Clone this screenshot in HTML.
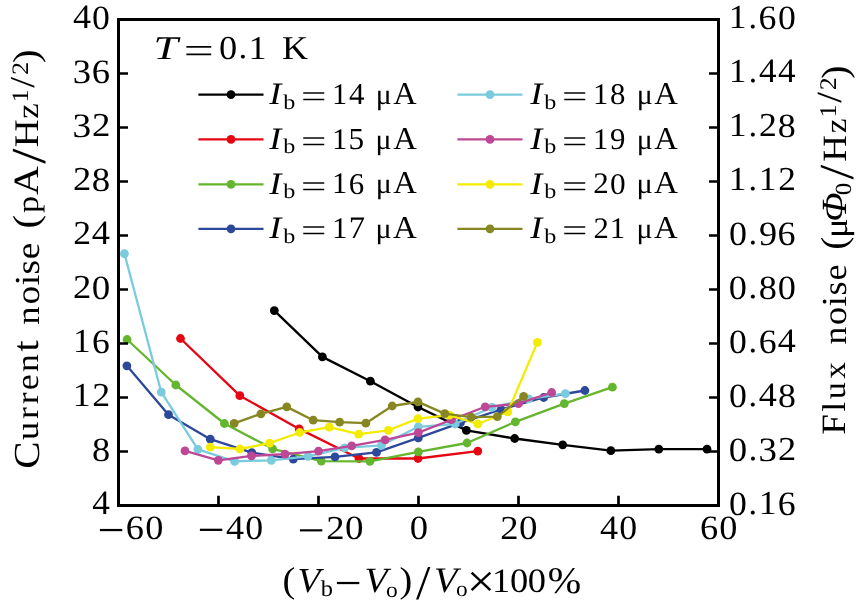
<!DOCTYPE html>
<html><head><meta charset="utf-8"><title>Current noise vs bias</title>
<style>
html,body{margin:0;padding:0;background:#fff;overflow:hidden;}
svg{display:block;}
text{font-family:"Liberation Serif",serif;fill:#000;text-rendering:geometricPrecision;white-space:pre;}
</style></head><body>
<svg width="859" height="605" viewBox="0 0 859 605">
<rect x="0" y="0" width="859" height="605" fill="#fff"/>
<path d="M274.3 310.6 L322.4 356.9 L370.4 381.2 L418.0 407.0 L466.4 430.4 L514.7 438.5 L562.7 444.8 L610.8 450.7 L658.8 449.2 L707.0 449.2" fill="none" stroke="#000000" stroke-width="2.3" stroke-linejoin="round"/>
<circle cx="274.3" cy="310.6" r="4.4" fill="#000000"/><circle cx="322.4" cy="356.9" r="4.4" fill="#000000"/><circle cx="370.4" cy="381.2" r="4.4" fill="#000000"/><circle cx="418.0" cy="407.0" r="4.4" fill="#000000"/><circle cx="466.4" cy="430.4" r="4.4" fill="#000000"/><circle cx="514.7" cy="438.5" r="4.4" fill="#000000"/><circle cx="562.7" cy="444.8" r="4.4" fill="#000000"/><circle cx="610.8" cy="450.7" r="4.4" fill="#000000"/><circle cx="658.8" cy="449.2" r="4.4" fill="#000000"/><circle cx="707.0" cy="449.2" r="4.4" fill="#000000"/>
<path d="M180.5 338.5 L239.8 395.7 L299.2 428.9 L359.0 458.5 L418.0 458.5 L477.8 451.1" fill="none" stroke="#E60512" stroke-width="2.3" stroke-linejoin="round"/>
<circle cx="180.5" cy="338.5" r="4.4" fill="#E60512"/><circle cx="239.8" cy="395.7" r="4.4" fill="#E60512"/><circle cx="299.2" cy="428.9" r="4.4" fill="#E60512"/><circle cx="359.0" cy="458.5" r="4.4" fill="#E60512"/><circle cx="418.0" cy="458.5" r="4.4" fill="#E60512"/><circle cx="477.8" cy="451.1" r="4.4" fill="#E60512"/>
<path d="M127.1 339.5 L175.8 385.0 L224.4 423.5 L272.6 448.8 L321.3 461.1 L369.9 461.3 L418.3 451.9 L467.0 443.0 L515.4 421.8 L564.3 403.6 L612.4 387.2" fill="none" stroke="#64B62E" stroke-width="2.3" stroke-linejoin="round"/>
<circle cx="127.1" cy="339.5" r="4.4" fill="#64B62E"/><circle cx="175.8" cy="385.0" r="4.4" fill="#64B62E"/><circle cx="224.4" cy="423.5" r="4.4" fill="#64B62E"/><circle cx="272.6" cy="448.8" r="4.4" fill="#64B62E"/><circle cx="321.3" cy="461.1" r="4.4" fill="#64B62E"/><circle cx="369.9" cy="461.3" r="4.4" fill="#64B62E"/><circle cx="418.3" cy="451.9" r="4.4" fill="#64B62E"/><circle cx="467.0" cy="443.0" r="4.4" fill="#64B62E"/><circle cx="515.4" cy="421.8" r="4.4" fill="#64B62E"/><circle cx="564.3" cy="403.6" r="4.4" fill="#64B62E"/><circle cx="612.4" cy="387.2" r="4.4" fill="#64B62E"/>
<path d="M126.9 365.8 L168.5 414.7 L210.3 439.2 L251.8 452.6 L293.3 459.2 L335.0 456.9 L376.5 452.4 L418.3 437.9 L460.4 422.8 L501.0 409.5 L543.7 397.5 L584.9 390.5" fill="none" stroke="#2C489B" stroke-width="2.3" stroke-linejoin="round"/>
<circle cx="126.9" cy="365.8" r="4.4" fill="#2C489B"/><circle cx="168.5" cy="414.7" r="4.4" fill="#2C489B"/><circle cx="210.3" cy="439.2" r="4.4" fill="#2C489B"/><circle cx="251.8" cy="452.6" r="4.4" fill="#2C489B"/><circle cx="293.3" cy="459.2" r="4.4" fill="#2C489B"/><circle cx="335.0" cy="456.9" r="4.4" fill="#2C489B"/><circle cx="376.5" cy="452.4" r="4.4" fill="#2C489B"/><circle cx="418.3" cy="437.9" r="4.4" fill="#2C489B"/><circle cx="460.4" cy="422.8" r="4.4" fill="#2C489B"/><circle cx="501.0" cy="409.5" r="4.4" fill="#2C489B"/><circle cx="543.7" cy="397.5" r="4.4" fill="#2C489B"/><circle cx="584.9" cy="390.5" r="4.4" fill="#2C489B"/>
<path d="M124.4 253.6 L161.3 392.2 L197.9 449.3 L234.6 461.3 L271.3 460.3 L308.0 456.3 L344.6 447.8 L381.5 445.3 L418.3 426.8 L455.1 424.0 L491.8 407.3 L528.7 398.9 L565.4 393.6" fill="none" stroke="#7ACBDE" stroke-width="2.3" stroke-linejoin="round"/>
<circle cx="124.4" cy="253.6" r="4.4" fill="#7ACBDE"/><circle cx="161.3" cy="392.2" r="4.4" fill="#7ACBDE"/><circle cx="197.9" cy="449.3" r="4.4" fill="#7ACBDE"/><circle cx="234.6" cy="461.3" r="4.4" fill="#7ACBDE"/><circle cx="271.3" cy="460.3" r="4.4" fill="#7ACBDE"/><circle cx="308.0" cy="456.3" r="4.4" fill="#7ACBDE"/><circle cx="344.6" cy="447.8" r="4.4" fill="#7ACBDE"/><circle cx="381.5" cy="445.3" r="4.4" fill="#7ACBDE"/><circle cx="418.3" cy="426.8" r="4.4" fill="#7ACBDE"/><circle cx="455.1" cy="424.0" r="4.4" fill="#7ACBDE"/><circle cx="491.8" cy="407.3" r="4.4" fill="#7ACBDE"/><circle cx="528.7" cy="398.9" r="4.4" fill="#7ACBDE"/><circle cx="565.4" cy="393.6" r="4.4" fill="#7ACBDE"/>
<path d="M185.0 450.9 L218.3 460.3 L251.5 455.9 L285.0 454.2 L318.5 451.1 L351.7 445.8 L385.1 439.8 L418.3 432.6 L451.5 419.7 L485.2 406.8 L518.4 403.7 L551.7 392.5" fill="none" stroke="#BE4896" stroke-width="2.3" stroke-linejoin="round"/>
<circle cx="185.0" cy="450.9" r="4.4" fill="#BE4896"/><circle cx="218.3" cy="460.3" r="4.4" fill="#BE4896"/><circle cx="251.5" cy="455.9" r="4.4" fill="#BE4896"/><circle cx="285.0" cy="454.2" r="4.4" fill="#BE4896"/><circle cx="318.5" cy="451.1" r="4.4" fill="#BE4896"/><circle cx="351.7" cy="445.8" r="4.4" fill="#BE4896"/><circle cx="385.1" cy="439.8" r="4.4" fill="#BE4896"/><circle cx="418.3" cy="432.6" r="4.4" fill="#BE4896"/><circle cx="451.5" cy="419.7" r="4.4" fill="#BE4896"/><circle cx="485.2" cy="406.8" r="4.4" fill="#BE4896"/><circle cx="518.4" cy="403.7" r="4.4" fill="#BE4896"/><circle cx="551.7" cy="392.5" r="4.4" fill="#BE4896"/>
<path d="M210.3 447.1 L239.9 449.0 L269.7 443.1 L299.7 432.5 L329.3 427.2 L358.7 434.2 L388.4 430.3 L418.0 418.6 L449.4 415.2 L477.9 424.0 L507.8 411.8 L537.4 342.4" fill="none" stroke="#F3EC00" stroke-width="2.3" stroke-linejoin="round"/>
<circle cx="210.3" cy="447.1" r="4.4" fill="#F3EC00"/><circle cx="239.9" cy="449.0" r="4.4" fill="#F3EC00"/><circle cx="269.7" cy="443.1" r="4.4" fill="#F3EC00"/><circle cx="299.7" cy="432.5" r="4.4" fill="#F3EC00"/><circle cx="329.3" cy="427.2" r="4.4" fill="#F3EC00"/><circle cx="358.7" cy="434.2" r="4.4" fill="#F3EC00"/><circle cx="388.4" cy="430.3" r="4.4" fill="#F3EC00"/><circle cx="418.0" cy="418.6" r="4.4" fill="#F3EC00"/><circle cx="449.4" cy="415.2" r="4.4" fill="#F3EC00"/><circle cx="477.9" cy="424.0" r="4.4" fill="#F3EC00"/><circle cx="507.8" cy="411.8" r="4.4" fill="#F3EC00"/><circle cx="537.4" cy="342.4" r="4.4" fill="#F3EC00"/>
<path d="M234.2 423.3 L260.9 413.8 L286.8 406.9 L313.2 420.2 L339.6 422.2 L365.8 423.2 L392.2 406.0 L418.0 401.9 L444.8 413.6 L471.2 417.2 L497.3 416.7 L523.6 396.3" fill="none" stroke="#868722" stroke-width="2.3" stroke-linejoin="round"/>
<circle cx="234.2" cy="423.3" r="4.4" fill="#868722"/><circle cx="260.9" cy="413.8" r="4.4" fill="#868722"/><circle cx="286.8" cy="406.9" r="4.4" fill="#868722"/><circle cx="313.2" cy="420.2" r="4.4" fill="#868722"/><circle cx="339.6" cy="422.2" r="4.4" fill="#868722"/><circle cx="365.8" cy="423.2" r="4.4" fill="#868722"/><circle cx="392.2" cy="406.0" r="4.4" fill="#868722"/><circle cx="418.0" cy="401.9" r="4.4" fill="#868722"/><circle cx="444.8" cy="413.6" r="4.4" fill="#868722"/><circle cx="471.2" cy="417.2" r="4.4" fill="#868722"/><circle cx="497.3" cy="416.7" r="4.4" fill="#868722"/><circle cx="523.6" cy="396.3" r="4.4" fill="#868722"/>
<rect x="118.5" y="19.5" width="600" height="486" fill="none" stroke="#000" stroke-width="3"/>
<path d="M120 451.5H128 M717 451.5H709 M120 397.5H128 M717 397.5H709 M120 343.5H128 M717 343.5H709 M120 289.5H128 M717 289.5H709 M120 235.5H128 M717 235.5H709 M120 181.5H128 M717 181.5H709 M120 127.5H128 M717 127.5H709 M120 73.5H128 M717 73.5H709 M218.5 504V495.8 M318.5 504V495.8 M418.5 504V495.8 M518.5 504V495.8 M618.5 504V495.8" stroke="#000" stroke-width="2.7" fill="none"/>
<text transform="scale(1.0294 1)"><tspan x="89.52" y="514.23" font-size="34.30">4</tspan></text>
<text transform="scale(1.0708 1)"><tspan x="85.89" y="460.57" font-size="33.96">8</tspan></text>
<text transform="scale(1.0660 1)"><tspan x="68.24" y="406.23" font-size="33.70">1</tspan><tspan x="86.59" y="406.23" font-size="33.60">2</tspan></text>
<text transform="scale(1.0443 1)"><tspan x="69.85" y="352.23" font-size="33.70">1</tspan><tspan x="88.02" y="352.57" font-size="34.10">6</tspan></text>
<text transform="scale(1.0894 1)"><tspan x="67.05" y="298.23" font-size="33.60">2</tspan><tspan x="84.27" y="298.57" font-size="33.96">0</tspan></text>
<text transform="scale(1.0615 1)"><tspan x="69.03" y="244.23" font-size="33.60">2</tspan><tspan x="86.56" y="244.23" font-size="34.30">4</tspan></text>
<text transform="scale(1.0846 1)"><tspan x="67.38" y="190.23" font-size="33.60">2</tspan><tspan x="84.68" y="190.57" font-size="33.96">8</tspan></text>
<text transform="scale(1.0966 1)"><tspan x="66.09" y="136.57" font-size="34.10">3</tspan><tspan x="83.94" y="136.23" font-size="33.60">2</tspan></text>
<text transform="scale(1.0754 1)"><tspan x="67.57" y="82.57" font-size="34.10">3</tspan><tspan x="85.22" y="82.57" font-size="34.10">6</tspan></text>
<text transform="scale(1.0534 1)"><tspan x="69.19" y="28.23" font-size="34.30">4</tspan><tspan x="87.44" y="28.57" font-size="33.96">0</tspan></text>
<text transform="scale(1.0520 1)"><tspan x="692.96" y="514.57" font-size="33.96">0</tspan><tspan x="711.59" y="513.77" font-size="32.60">.</tspan><tspan x="721.18" y="514.23" font-size="33.70">1</tspan><tspan x="739.22" y="514.57" font-size="34.10">6</tspan></text>
<text transform="scale(1.0833 1)"><tspan x="672.71" y="460.57" font-size="33.96">0</tspan><tspan x="690.93" y="459.77" font-size="32.60">.</tspan><tspan x="700.11" y="460.57" font-size="34.10">3</tspan><tspan x="718.17" y="460.23" font-size="33.60">2</tspan></text>
<text transform="scale(1.0543 1)"><tspan x="691.40" y="406.57" font-size="33.96">0</tspan><tspan x="710.00" y="405.77" font-size="32.60">.</tspan><tspan x="719.59" y="406.23" font-size="34.30">4</tspan><tspan x="737.82" y="406.57" font-size="33.96">8</tspan></text>
<text transform="scale(1.0505 1)"><tspan x="693.98" y="352.57" font-size="33.96">0</tspan><tspan x="712.63" y="351.77" font-size="32.60">.</tspan><tspan x="722.17" y="352.57" font-size="34.10">6</tspan><tspan x="740.42" y="352.23" font-size="34.30">4</tspan></text>
<text transform="scale(1.0707 1)"><tspan x="680.73" y="298.57" font-size="33.96">0</tspan><tspan x="699.11" y="297.77" font-size="32.60">.</tspan><tspan x="708.64" y="298.57" font-size="33.96">8</tspan><tspan x="726.44" y="298.57" font-size="33.96">0</tspan></text>
<text transform="scale(1.0601 1)"><tspan x="687.59" y="244.57" font-size="33.96">0</tspan><tspan x="706.11" y="243.77" font-size="32.60">.</tspan><tspan x="715.89" y="244.57" font-size="34.10">9</tspan><tspan x="733.50" y="244.57" font-size="34.10">6</tspan></text>
<text transform="scale(1.0488 1)"><tspan x="694.92" y="190.23" font-size="33.70">1</tspan><tspan x="713.77" y="189.77" font-size="32.60">.</tspan><tspan x="723.41" y="190.23" font-size="33.70">1</tspan><tspan x="742.04" y="190.23" font-size="33.60">2</tspan></text>
<text transform="scale(1.0617 1)"><tspan x="686.35" y="136.23" font-size="33.70">1</tspan><tspan x="705.03" y="135.77" font-size="32.60">.</tspan><tspan x="714.96" y="136.23" font-size="33.60">2</tspan><tspan x="732.63" y="136.57" font-size="33.96">8</tspan></text>
<text transform="scale(1.0267 1)"><tspan x="710.08" y="82.23" font-size="33.70">1</tspan><tspan x="729.24" y="81.77" font-size="32.60">.</tspan><tspan x="739.21" y="82.23" font-size="34.30">4</tspan><tspan x="757.77" y="82.23" font-size="34.30">4</tspan></text>
<text transform="scale(1.0520 1)"><tspan x="692.77" y="28.23" font-size="33.70">1</tspan><tspan x="711.59" y="27.77" font-size="32.60">.</tspan><tspan x="721.10" y="28.57" font-size="34.10">6</tspan><tspan x="739.48" y="28.57" font-size="33.96">0</tspan></text>
<text transform="scale(1.0688 1)"><tspan x="91.14" y="545.21" font-size="45.04">−</tspan><tspan x="117.72" y="539.27" font-size="34.10">6</tspan><tspan x="135.82" y="539.27" font-size="33.96">0</tspan></text>
<text transform="scale(1.0534 1)"><tspan x="187.39" y="545.42" font-size="45.70">−</tspan><tspan x="214.59" y="538.93" font-size="34.30">4</tspan><tspan x="232.84" y="539.27" font-size="33.96">0</tspan></text>
<text transform="scale(1.0894 1)"><tspan x="272.99" y="544.92" font-size="44.19">−</tspan><tspan x="299.44" y="538.93" font-size="33.60">2</tspan><tspan x="316.66" y="539.27" font-size="33.96">0</tspan></text>
<text transform="scale(1.0801 1)"><tspan x="379.25" y="539.27" font-size="33.96">0</tspan></text>
<text transform="scale(1.0894 1)"><tspan x="459.24" y="538.93" font-size="33.60">2</tspan><tspan x="476.46" y="539.27" font-size="33.96">0</tspan></text>
<text transform="scale(1.0534 1)"><tspan x="569.70" y="538.93" font-size="34.30">4</tspan><tspan x="587.95" y="539.27" font-size="33.96">0</tspan></text>
<text transform="scale(1.0688 1)"><tspan x="654.88" y="539.27" font-size="34.10">6</tspan><tspan x="672.97" y="539.27" font-size="33.96">0</tspan></text>
<text transform="scale(1.3221 1)"><tspan x="116.20" y="58.90" font-size="33.29" font-style="italic">T</tspan></text>
<text font-size="37.20" transform="translate(183.65 62.80) scale(1.4327 1)">=</text>
<text transform="scale(1.0873 1)"><tspan x="201.42" y="59.07" font-size="33.49">0</tspan><tspan x="219.41" y="58.28" font-size="32.16">.</tspan><tspan x="228.48" y="58.74" font-size="33.23">1</tspan> <tspan x="259.40" y="58.90" font-size="33.29">K</tspan></text>
<path d="M198.4 94.6H263.5" stroke="#000000" stroke-width="2.3"/><circle cx="231.0" cy="94.6" r="4.4" fill="#000000"/>
<text transform="scale(1.1561 1)"><tspan x="232.99" y="103.90" font-size="31.16" font-style="italic">I</tspan><tspan x="244.93" y="108.60" font-size="20.89">b</tspan></text>
<text font-size="32.40" transform="translate(301.05 107.11) scale(1.3929 1)">=</text>
<text transform="scale(1.0189 1)"><tspan x="325.92" y="103.70" font-size="29.77">1</tspan><tspan x="342.46" y="103.70" font-size="30.31">4</tspan> <tspan x="368.73" y="103.77" font-size="29.13">μ</tspan><tspan x="385.96" y="103.70" font-size="31.81">A</tspan></text>
<path d="M198.4 139.4H263.5" stroke="#E60512" stroke-width="2.3"/><circle cx="231.0" cy="139.4" r="4.4" fill="#E60512"/>
<text transform="scale(1.1561 1)"><tspan x="232.99" y="148.70" font-size="31.16" font-style="italic">I</tspan><tspan x="244.93" y="153.40" font-size="20.89">b</tspan></text>
<text font-size="32.40" transform="translate(301.05 151.91) scale(1.3929 1)">=</text>
<text transform="scale(1.0264 1)"><tspan x="323.47" y="148.50" font-size="29.77">1</tspan><tspan x="339.63" y="148.79" font-size="30.47">5</tspan> <tspan x="365.96" y="148.57" font-size="29.13">μ</tspan><tspan x="383.05" y="148.50" font-size="31.81">A</tspan></text>
<path d="M198.4 184.3H263.5" stroke="#64B62E" stroke-width="2.3"/><circle cx="231.0" cy="184.3" r="4.4" fill="#64B62E"/>
<text transform="scale(1.1561 1)"><tspan x="232.99" y="193.60" font-size="31.16" font-style="italic">I</tspan><tspan x="244.93" y="198.30" font-size="20.89">b</tspan></text>
<text font-size="32.40" transform="translate(301.05 196.81) scale(1.3929 1)">=</text>
<text transform="scale(1.0250 1)"><tspan x="323.95" y="193.40" font-size="29.77">1</tspan><tspan x="340.30" y="193.70" font-size="30.13">6</tspan> <tspan x="366.50" y="193.47" font-size="29.13">μ</tspan><tspan x="383.61" y="193.40" font-size="31.81">A</tspan></text>
<path d="M198.4 228.8H263.5" stroke="#2C489B" stroke-width="2.3"/><circle cx="231.0" cy="228.8" r="4.4" fill="#2C489B"/>
<text transform="scale(1.1561 1)"><tspan x="232.99" y="238.10" font-size="31.16" font-style="italic">I</tspan><tspan x="244.93" y="242.80" font-size="20.89">b</tspan></text>
<text font-size="32.40" transform="translate(301.05 241.31) scale(1.3929 1)">=</text>
<text transform="scale(1.0348 1)"><tspan x="320.78" y="237.90" font-size="29.77">1</tspan><tspan x="336.93" y="238.49" font-size="31.46">7</tspan> <tspan x="362.92" y="237.97" font-size="29.13">μ</tspan><tspan x="379.84" y="237.90" font-size="31.81">A</tspan></text>
<path d="M457.4 94.6H522.5" stroke="#7ACBDE" stroke-width="2.3"/><circle cx="490.0" cy="94.6" r="4.4" fill="#7ACBDE"/>
<text transform="scale(1.1561 1)"><tspan x="458.74" y="103.90" font-size="31.16" font-style="italic">I</tspan><tspan x="470.68" y="108.60" font-size="20.89">b</tspan></text>
<text font-size="32.40" transform="translate(562.05 107.11) scale(1.3929 1)">=</text>
<text transform="scale(1.0278 1)"><tspan x="576.99" y="103.70" font-size="29.77">1</tspan><tspan x="593.53" y="104.00" font-size="30.00">8</tspan> <tspan x="619.42" y="103.77" font-size="29.13">μ</tspan><tspan x="636.48" y="103.70" font-size="31.81">A</tspan></text>
<path d="M457.4 139.4H522.5" stroke="#BE4896" stroke-width="2.3"/><circle cx="490.0" cy="139.4" r="4.4" fill="#BE4896"/>
<text transform="scale(1.1561 1)"><tspan x="458.74" y="148.70" font-size="31.16" font-style="italic">I</tspan><tspan x="470.68" y="153.40" font-size="20.89">b</tspan></text>
<text font-size="32.40" transform="translate(562.05 151.91) scale(1.3929 1)">=</text>
<text transform="scale(1.0252 1)"><tspan x="578.44" y="148.50" font-size="29.77">1</tspan><tspan x="595.13" y="148.80" font-size="30.13">9</tspan> <tspan x="620.99" y="148.57" font-size="29.13">μ</tspan><tspan x="638.09" y="148.50" font-size="31.81">A</tspan></text>
<path d="M457.4 184.3H522.5" stroke="#F3EC00" stroke-width="2.3"/><circle cx="490.0" cy="184.3" r="4.4" fill="#F3EC00"/>
<text transform="scale(1.1561 1)"><tspan x="458.74" y="193.60" font-size="31.16" font-style="italic">I</tspan><tspan x="470.68" y="198.30" font-size="20.89">b</tspan></text>
<text font-size="32.40" transform="translate(562.05 196.81) scale(1.3929 1)">=</text>
<text transform="scale(1.0442 1)"><tspan x="568.21" y="193.40" font-size="29.68">2</tspan><tspan x="584.09" y="193.70" font-size="30.00">0</tspan> <tspan x="609.56" y="193.47" font-size="29.13">μ</tspan><tspan x="626.30" y="193.40" font-size="31.81">A</tspan></text>
<path d="M457.4 228.8H522.5" stroke="#868722" stroke-width="2.3"/><circle cx="490.0" cy="228.8" r="4.4" fill="#868722"/>
<text transform="scale(1.1561 1)"><tspan x="458.74" y="238.10" font-size="31.16" font-style="italic">I</tspan><tspan x="470.68" y="242.80" font-size="20.89">b</tspan></text>
<text font-size="32.40" transform="translate(562.05 241.31) scale(1.3929 1)">=</text>
<text transform="scale(1.0332 1)"><tspan x="574.34" y="237.90" font-size="29.68">2</tspan><tspan x="590.24" y="237.90" font-size="29.77">1</tspan> <tspan x="616.15" y="237.97" font-size="29.13">μ</tspan><tspan x="633.10" y="237.90" font-size="31.81">A</tspan></text>
<text transform="rotate(-90) scale(1.1185 1)"><tspan x="-419.04" y="38.54" font-size="36.61">C</tspan><tspan x="-393.35" y="38.24" font-size="32.74">u</tspan><tspan x="-374.66" y="38.22" font-size="31.84">r</tspan><tspan x="-361.32" y="38.22" font-size="31.84">r</tspan><tspan x="-348.98" y="38.24" font-size="32.26">e</tspan><tspan x="-332.60" y="38.22" font-size="31.84">n</tspan><tspan x="-314.47" y="38.20" font-size="37.13">t</tspan> <tspan x="-290.30" y="38.55" font-size="32.97">n</tspan><tspan x="-272.35" y="38.57" font-size="33.40">o</tspan><tspan x="-255.31" y="38.55" font-size="35.11">i</tspan><tspan x="-245.37" y="38.57" font-size="33.40">s</tspan><tspan x="-231.76" y="38.57" font-size="33.40">e</tspan> <tspan x="-204.30" y="38.05" font-size="36.39">(</tspan><tspan x="-190.54" y="37.89" font-size="30.60">p</tspan><tspan x="-174.39" y="38.00" font-size="35.60">A</tspan><tspan x="-146.44" y="45.32" font-size="48.88">/</tspan><tspan x="-131.74" y="37.90" font-size="34.52">H</tspan><tspan x="-106.08" y="37.90" font-size="31.07">z</tspan><tspan x="-91.71" y="28.15" font-size="23.61">1</tspan><tspan x="-78.37" y="33.66" font-size="34.98">/</tspan><tspan x="-67.14" y="28.15" font-size="23.54">2</tspan><tspan x="-56.33" y="37.83" font-size="36.50">)</tspan></text>
<text transform="rotate(-90) scale(1.0832 1)"><tspan x="-401.48" y="845.27" font-size="34.17">F</tspan><tspan x="-380.08" y="845.27" font-size="32.96">l</tspan><tspan x="-368.63" y="845.29" font-size="31.71">u</tspan><tspan x="-349.62" y="845.27" font-size="30.95">x</tspan> <tspan x="-318.14" y="845.95" font-size="32.97">n</tspan><tspan x="-300.03" y="845.97" font-size="33.40">o</tspan><tspan x="-282.86" y="845.95" font-size="35.11">i</tspan><tspan x="-272.81" y="845.97" font-size="33.40">s</tspan><tspan x="-259.05" y="845.97" font-size="33.40">e</tspan> <tspan x="-230.66" y="846.05" font-size="36.39">(</tspan><tspan x="-219.84" y="846.62" font-size="33.59">μ</tspan><tspan x="-204.73" y="846.30" font-size="35.43" font-style="italic">Φ</tspan><tspan x="-180.17" y="851.17" font-size="23.12">0</tspan><tspan x="-165.77" y="853.12" font-size="48.88">/</tspan><tspan x="-149.35" y="845.90" font-size="34.06">H</tspan><tspan x="-123.02" y="845.90" font-size="30.66">z</tspan><tspan x="-108.47" y="835.78" font-size="23.91">1</tspan><tspan x="-94.85" y="841.35" font-size="35.43">/</tspan><tspan x="-83.38" y="835.78" font-size="23.84">2</tspan><tspan x="-72.65" y="846.61" font-size="37.06">)</tspan></text>
<text transform="scale(1.0668 1)"><tspan x="264.75" y="592.05" font-size="35.95">(</tspan><tspan x="278.95" y="591.77" font-size="35.08" font-style="italic">V</tspan><tspan x="300.72" y="596.48" font-size="22.88">b</tspan><tspan x="313.46" y="597.88" font-size="45.12">−</tspan><tspan x="341.63" y="592.06" font-size="35.53" font-style="italic">V</tspan><tspan x="361.94" y="596.58" font-size="22.04">o</tspan><tspan x="374.56" y="592.05" font-size="35.95">)</tspan><tspan x="389.85" y="599.33" font-size="48.58">/</tspan><tspan x="406.80" y="592.36" font-size="35.97" font-style="italic">V</tspan><tspan x="427.46" y="596.39" font-size="21.83">o</tspan><tspan x="437.51" y="597.48" font-size="47.15">×</tspan><tspan x="461.20" y="591.82" font-size="33.97">1</tspan><tspan x="478.04" y="592.17" font-size="34.23">0</tspan><tspan x="494.68" y="592.17" font-size="34.23">0</tspan><tspan x="513.53" y="593.40" font-size="37.60">%</tspan></text>
</svg>
</body></html>
